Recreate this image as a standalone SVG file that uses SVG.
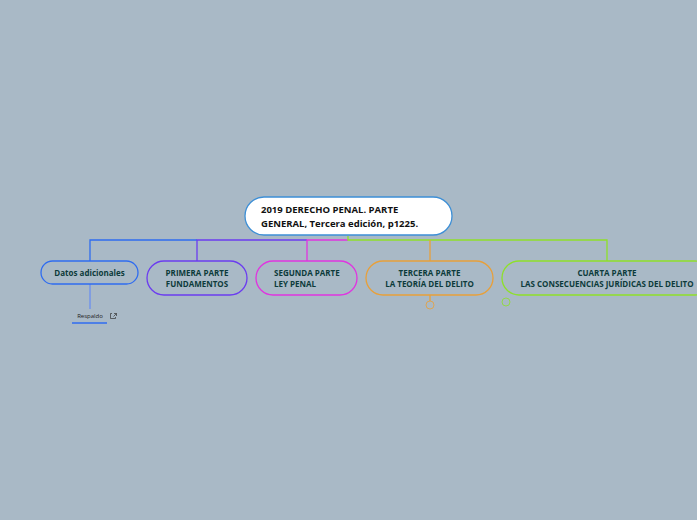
<svg xmlns="http://www.w3.org/2000/svg" width="697" height="520" viewBox="0 0 697 520">
<style>
text{font-family:"Open Sans","Noto Sans",sans-serif;font-weight:bold;font-size:8px;fill:#0d3b3b;text-anchor:middle}
.n{fill:#a9b9c6;stroke-width:1.3}
.c{fill:none;stroke-width:1.3}
</style>
<rect width="697" height="520" fill="#a9b9c6"/>
<g id="connectors">
<path class="c" stroke="#2f6cf0" d="M90,261V240H197"/>
<path class="c" stroke="#6b3cf0" d="M197,261V240H307"/>
<path class="c" stroke="#e034e0" d="M307,261V240H348"/>
<path class="c" stroke="#8ee02a" d="M348,236V240H607V261"/>
<path class="c" stroke="#e8a03a" d="M430,240V261"/>
<path class="c" stroke="#e8a03a" d="M430,295V301"/>
<path class="c" stroke="#6a8ff0" d="M90,284V309"/>
</g>
<g id="central">
<rect x="245" y="197" width="207" height="38" rx="19" fill="#fff" stroke="#3d8fd6" stroke-width="1.3"/>
<text x="261" y="213" style="font-size:9.5px;text-anchor:start;fill:#111">2019 DERECHO PENAL. PARTE</text>
<text x="261" y="227" style="font-size:9.5px;text-anchor:start;fill:#111">GENERAL, Tercera edición, p1225.</text>
</g>
<g id="datos">
<rect class="n" x="41" y="261" width="97" height="23" rx="11.5" stroke="#2f6cf0"/>
<text x="89.5" y="275.5">Datos adicionales</text>
</g>
<g id="respaldo">
<text x="90" y="318" style="font-size:6px;font-weight:normal;fill:#222">Respaldo</text>
<line x1="72" y1="323" x2="107" y2="323" stroke="#2f6cf0" stroke-width="1.3"/>
<path d="M112,313.5h-1.5v5h5v-1.5M114,313.5h2.5v2.5M116.5,313.5l-3,3" fill="none" stroke="#333" stroke-width="0.7"/>
</g>
<g id="primera">
<rect class="n" x="147" y="261" width="100" height="34" rx="17" stroke="#6b3cf0"/>
<text x="197" y="275.5">PRIMERA PARTE</text>
<text x="197" y="287">FUNDAMENTOS</text>
</g>
<g id="segunda">
<rect class="n" x="256" y="261" width="101" height="34" rx="17" stroke="#e034e0"/>
<text x="274" y="275.5" style="text-anchor:start">SEGUNDA PARTE</text>
<text x="274" y="287" style="text-anchor:start">LEY PENAL</text>
</g>
<g id="tercera">
<rect class="n" x="366" y="261" width="127" height="34" rx="17" stroke="#e8a03a"/>
<text x="429.5" y="275.5">TERCERA PARTE</text>
<text x="429.5" y="287">LA TEORÍA DEL DELITO</text>
<circle cx="430" cy="305" r="4" fill="none" stroke="#e8a03a" stroke-width="0.8"/>
</g>
<g id="cuarta">
<rect class="n" x="502" y="261" width="210" height="34" rx="17" stroke="#8ee02a"/>
<text x="607" y="275.5">CUARTA PARTE</text>
<text x="607" y="287">LAS CONSECUENCIAS JURÍDICAS DEL DELITO</text>
<circle cx="506" cy="302" r="4" fill="none" stroke="#8ee02a" stroke-width="0.8"/>
</g>
</svg>
